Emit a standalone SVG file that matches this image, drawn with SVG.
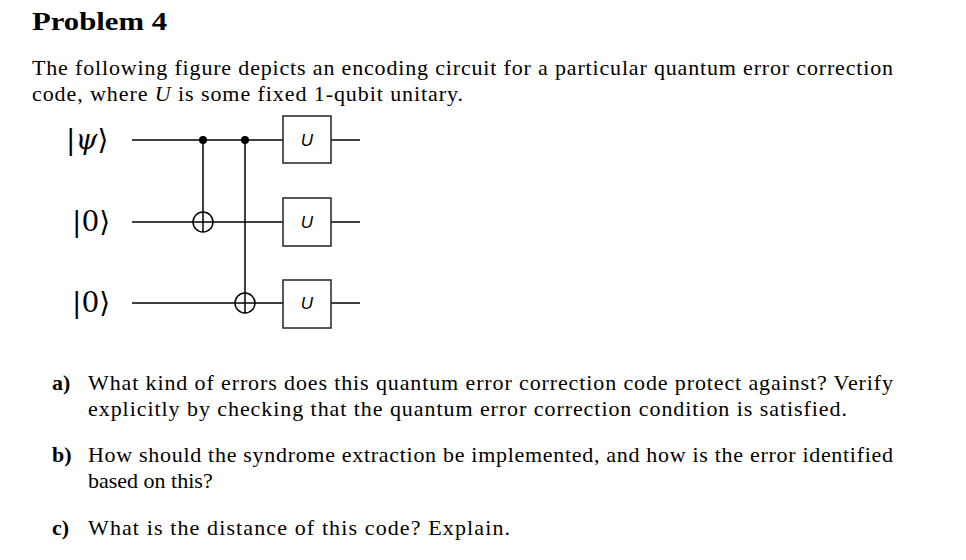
<svg xmlns="http://www.w3.org/2000/svg" width="966" height="560" viewBox="0 0 966 560">
<style>
text{font-family:"Liberation Serif","DejaVu Serif",serif;fill:#000}
.t{font-size:22px}
.b{font-weight:bold}
.w{stroke:#000;stroke-width:1.5;fill:none}
.g{fill:#fff;stroke:#222;stroke-width:1.5}
.u{font-style:italic;font-size:17px;font-family:"Liberation Sans",sans-serif}
.k{font-family:"DejaVu Serif",serif;font-size:28px}
</style>
<rect width="966" height="560" fill="#fff"/>
<text x="32" y="30" font-size="25" class="b" textLength="135" lengthAdjust="spacingAndGlyphs">Problem 4</text>
<text x="32" y="75" class="t" textLength="861">The following figure depicts an encoding circuit for a particular quantum error correction</text>
<text x="32" y="101" class="t" textLength="431">code, where <tspan font-style="italic">U</tspan> is some fixed 1-qubit unitary.</text>
<g id="labels">
<text class="k" x="66" y="149">|<tspan font-style="italic">ψ</tspan>⟩</text>
<text class="k" x="72" y="231">|0⟩</text>
<text class="k" x="72" y="312">|0⟩</text>
</g>
<g id="connectors">
<line class="w" x1="132" y1="140" x2="360" y2="140"/>
<line class="w" x1="132" y1="222" x2="360" y2="222"/>
<line class="w" x1="132" y1="303" x2="360" y2="303"/>
<line class="w" x1="203" y1="140" x2="203" y2="232"/>
<line class="w" x1="245" y1="140" x2="245" y2="313"/>
</g>
<g id="cnot1"><circle cx="203" cy="140" r="4" fill="#000"/><circle cx="203" cy="222" r="10" class="w"/></g>
<g id="cnot2"><circle cx="245" cy="140" r="4" fill="#000"/><circle cx="245" cy="303" r="10" class="w"/></g>
<g id="u1"><rect class="g" x="283" y="116" width="48" height="47"/><text class="u" x="307" y="146" text-anchor="middle">U</text></g>
<g id="u2"><rect class="g" x="283" y="198" width="48" height="48"/><text class="u" x="307" y="228" text-anchor="middle">U</text></g>
<g id="u3"><rect class="g" x="283" y="280" width="48" height="48"/><text class="u" x="307" y="309" text-anchor="middle">U</text></g>
<text x="52" y="390" class="t b">a)</text>
<text x="88" y="390" class="t" textLength="805">What kind of errors does this quantum error correction code protect against? Verify</text>
<text x="88" y="416" class="t" textLength="759">explicitly by checking that the quantum error correction condition is satisfied.</text>
<text x="52" y="462" class="t b">b)</text>
<text x="88" y="462" class="t" textLength="805">How should the syndrome extraction be implemented, and how is the error identified</text>
<text x="88" y="488" class="t">based on this?</text>
<text x="52" y="535" class="t b">c)</text>
<text x="88" y="535" class="t" textLength="422">What is the distance of this code? Explain.</text>
</svg>
